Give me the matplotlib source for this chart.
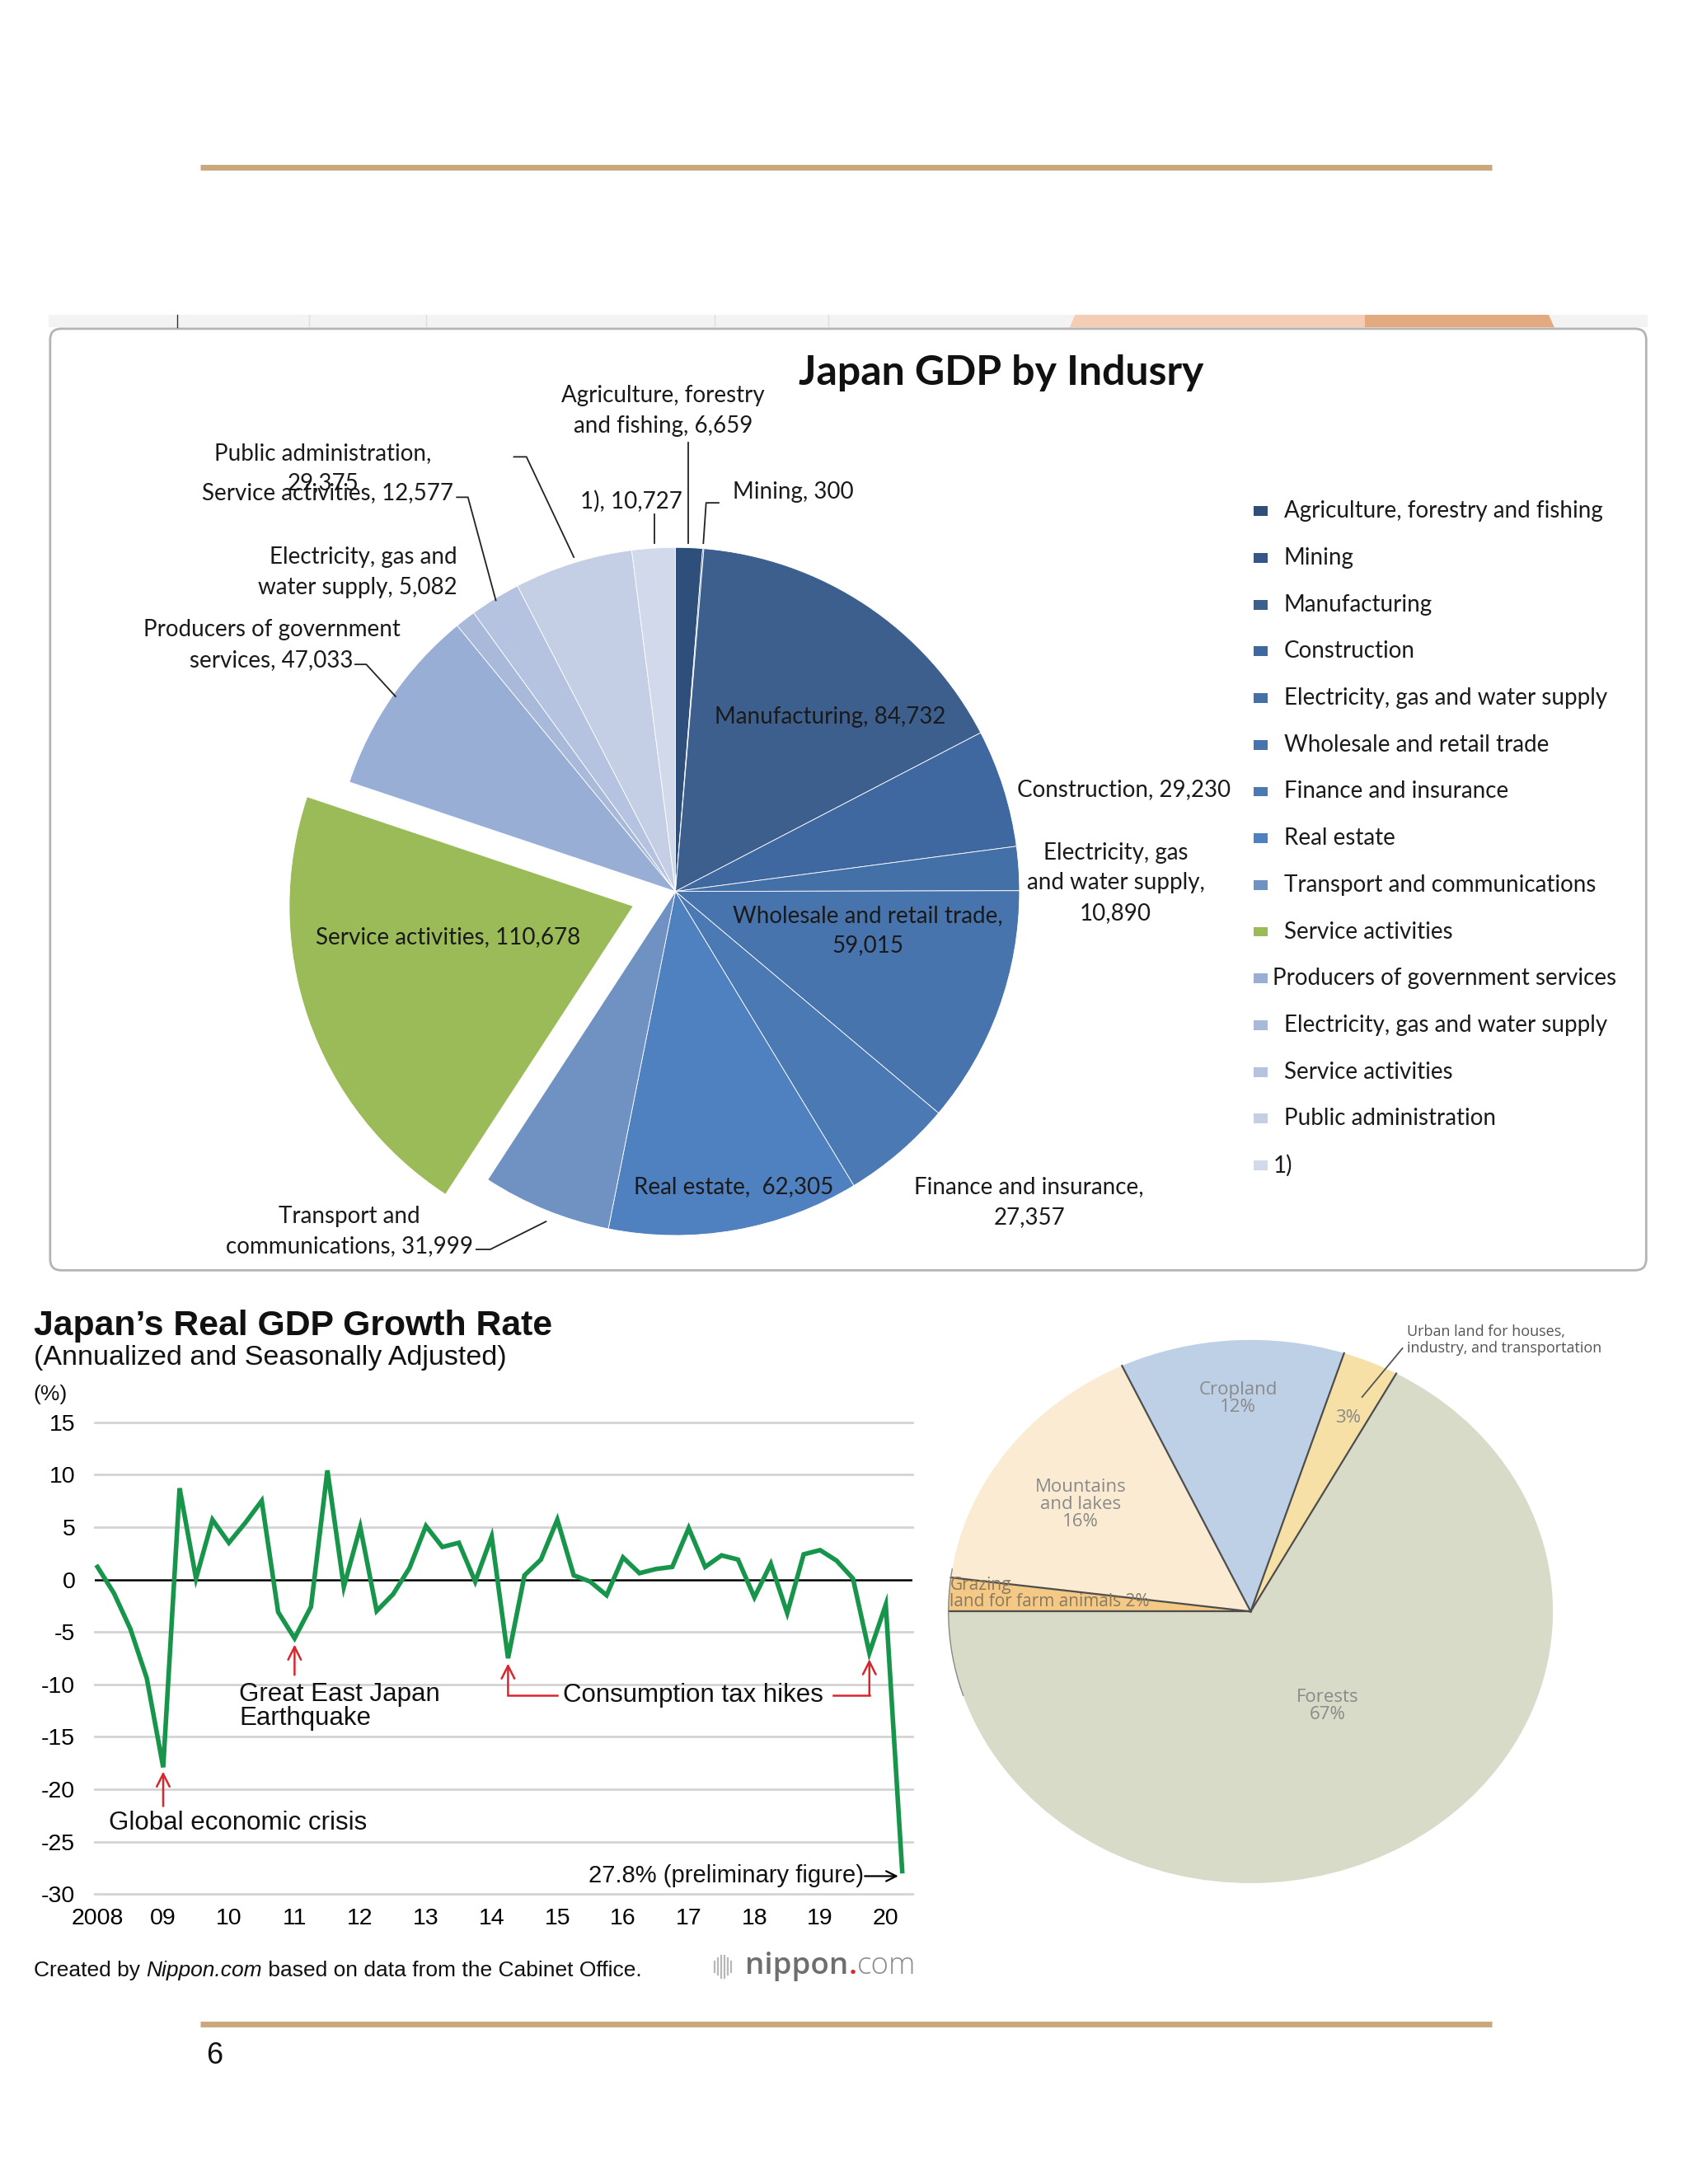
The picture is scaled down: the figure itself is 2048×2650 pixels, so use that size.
import matplotlib
matplotlib.use("Agg")
import matplotlib.pyplot as plt
from matplotlib import font_manager as fm
from matplotlib.patches import FancyBboxPatch, Rectangle, Polygon
import numpy as np

names = {f.name for f in fm.fontManager.ttflist}
SANS = 'Liberation Sans'
NARROW = 'Liberation Sans Narrow' if 'Liberation Sans Narrow' in names else SANS
XL = 'Lato' if 'Lato' in names else 'DejaVu Sans'
OPEN = 'Open Sans' if 'Open Sans' in names else 'DejaVu Sans'

# ---------------- DATA ----------------
# Japan GDP by industry (clockwise from 12 o'clock)
gdp_names = ["Agriculture, forestry and fishing", "Mining", "Manufacturing", "Construction",
             "Electricity, gas and water supply", "Wholesale and retail trade",
             "Finance and insurance", "Real estate", "Transport and communications",
             "Service activities", "Producers of government services",
             "Electricity, gas and water supply", "Service activities",
             "Public administration", "1)"]
gdp_values = [6659, 300, 84732, 29230, 10890, 59015, 27357, 62305, 31999,
              110678, 47033, 5082, 12577, 29375, 10727]
gdp_label_templates = ["Agriculture, forestry\nand fishing, {v}", "Mining, {v}", "Manufacturing, {v}",
                       "Construction, {v}", "Electricity, gas\nand water supply,\n{v}",
                       "Wholesale and retail trade,\n{v}", "Finance and insurance,\n{v}",
                       "Real estate,  {v}", "Transport and\ncommunications, {v}",
                       "Service activities, {v}", "Producers of government\nservices, {v}",
                       "Electricity, gas and\nwater supply, {v}", "Service activities, {v}",
                       "Public administration,\n{v}", "1), {v}"]
gdp_colors = ["#2f4f7b", "#34568a", "#3c5f8e", "#3f68a0", "#4470a8", "#4874ae", "#4a79b4",
              "#4f80bf", "#6f92c3", "#9bbb59", "#98aed4", "#a8b9da", "#b5c3e1", "#c4cee5", "#d2d9ea"]
gdp_explode_index = 9

# Japan real GDP growth rate (annualized, %), quarterly from 2008 Q1
growth_start_year = 2008
growth_values = [1.2, -1.3, -4.7, -9.4, -17.9, 8.7, 0.1, 5.7, 3.5, 5.4, 7.5, -3.1, -5.6, -2.6,
                 10.4, -0.7, 5.0, -3.0, -1.4, 1.1, 5.1, 3.1, 3.5, -0.2, 4.1, -7.5, 0.4, 1.9,
                 5.7, 0.4, -0.2, -1.5, 2.1, 0.6, 1.0, 1.2, 4.9, 1.2, 2.3, 1.9, -1.7, 1.5, -3.2,
                 2.4, 2.8, 1.8, 0.1, -7.0, -2.4, -27.8]
year_ticks = [2008, 2009, 2010, 2011, 2012, 2013, 2014, 2015, 2016, 2017, 2018, 2019, 2020]
year_labels = ["2008", "09", "10", "11", "12", "13", "14", "15", "16", "17", "18", "19", "20"]
y_ticks = [15, 10, 5, 0, -5, -10, -15, -20, -25, -30]

# Land use of Japan (clockwise from 9 o'clock)
land_names = ["Grazing land for farm animals", "Mountains and lakes", "Cropland", "Urban land", "Forests"]
land_values = [2, 16, 12, 3, 67]
land_colors = ["#f3c985", "#fbebd2", "#bdd0e6", "#f7e0a6", "#d8dbc8"]

# ---------------- FIGURE ----------------
W, H = 2048, 2650
RW, RH = 1212.0, 1568.0     # layout units (reduced grid)
fig = plt.figure(figsize=(W / 100, H / 100), dpi=100)
fig.patch.set_facecolor('white')


def rect(x0, y0, x1, y1):
    return [x0 / RW, 1 - y1 / RH, (x1 - x0) / RW, (y1 - y0) / RH]


page = fig.add_axes([0, 0, 1, 1], zorder=0)
page.set_xlim(0, RW); page.set_ylim(RH, 0); page.axis('off')

# gold rules
page.plot([144, 1071], [120, 120], color='#c9a97c', lw=5, solid_capstyle='butt')
page.plot([144, 1071], [1453, 1453], color='#c9a97c', lw=5, solid_capstyle='butt')
page.text(154, 1476, "6", fontsize=26, family=NARROW, ha='center', va='center', color='#111111')

# excel header remnants
page.add_patch(Rectangle((35, 226), 1148, 9, facecolor='#f3f3f3', edgecolor='none'))
for xx, c in [(127, '#333333'), (222, '#dddddd'), (306, '#dddddd'), (513, '#dddddd'), (595, '#dddddd')]:
    page.plot([xx, xx], [226, 235], color=c, lw=1)
page.add_patch(Polygon([(768, 235), (772, 226), (980, 226), (980, 235)], closed=True,
                       facecolor='#f4cdb4', edgecolor='none'))
page.add_patch(Polygon([(980, 235), (980, 226), (1112, 226), (1116, 235)], closed=True,
                       facecolor='#e3aa80', edgecolor='none'))
# chart frame
page.add_patch(FancyBboxPatch((36, 236), 1146, 676, boxstyle="round,pad=0,rounding_size=8",
                              facecolor='white', edgecolor='#b4b4b4', lw=2))

# ---------------- GDP PIE ----------------
cx, cy, rr = 485, 640, 247
axp = fig.add_axes(rect(cx - 1.2 * rr, cy - 1.2 * rr, cx + 1.2 * rr, cy + 1.2 * rr), zorder=2)
explode = [0.13 if i == gdp_explode_index else 0 for i in range(len(gdp_values))]
axp.pie(gdp_values, colors=gdp_colors, startangle=90, counterclock=False, explode=explode,
        radius=1, wedgeprops=dict(edgecolor='#ffffff', linewidth=0.6))
axp.set_xlim(-1.2, 1.2); axp.set_ylim(-1.2, 1.2); axp.set_aspect('equal')
axp.axis('off'); axp.patch.set_alpha(0)

top = fig.add_axes([0, 0, 1, 1], zorder=5)
top.set_xlim(0, RW); top.set_ylim(RH, 0); top.axis('off'); top.patch.set_alpha(0)

top.text(719, 268, "Japan GDP by Indusry", fontsize=36, fontweight='bold', family=XL,
         ha='center', va='center', color='#111111')

label_pos = [(476, 295, 'center'), (526, 353, 'left'), (596, 515, 'center'), (807, 567, 'center'),
             (801, 634, 'center'), (623, 668, 'center'), (739, 863, 'center'), (527, 852, 'center'),
             (251, 884, 'center'), (322, 673, 'center'), (195, 463, 'center'), (328, 411, 'right'),
             (235, 354, 'center'), (232, 336, 'center'), (453, 360, 'center')]
for tmpl, v, (lx, ly, ha) in zip(gdp_label_templates, gdp_values, label_pos):
    top.text(lx, ly, tmpl.format(v=f"{v:,}"), fontsize=20, family=XL, ha=ha, va='center',
             multialignment=ha, linespacing=1.5, color='#1a1a1a')

lk = dict(color='#222222', lw=1.3)
top.plot([494, 494], [318, 390], **lk)
top.plot([505, 507, 516], [390, 361, 361], **lk)
top.plot([470, 470], [369, 390], **lk)
top.plot([369, 378, 412], [328, 328, 400], **lk)
top.plot([328, 336, 356], [357, 357, 431], **lk)
top.plot([255, 263, 284], [477, 477, 500], **lk)
top.plot([342, 352, 392], [897, 897, 877], **lk)

# legend
leg_y0, leg_dy = 367, 33.55
for i, (nm, col) in enumerate(zip(gdp_names, gdp_colors)):
    yy = leg_y0 + i * leg_dy
    top.add_patch(Rectangle((900, yy - 3.5), 10, 7, facecolor=col, edgecolor='none'))
    tx = 914 if nm in ("Producers of government services", "1)") else 922
    top.text(tx, yy, nm, fontsize=20, family=XL, ha='left', va='center', color='#1a1a1a')

# ---------------- GROWTH LINE CHART ----------------
gx0, gx1, gy15, gym30 = 68, 655, 1021, 1360
axl = fig.add_axes(rect(gx0, gy15, gx1, gym30), zorder=3)
axl.patch.set_alpha(0)
px_per_year = (636 - 70) / 12.0
axl.set_xlim(2008 - (70 - gx0) / px_per_year, 2008 + (gx1 - 70) / px_per_year)
axl.set_ylim(-30, 15)
for s in axl.spines.values():
    s.set_visible(False)
for t in y_ticks:
    if t == 0:
        axl.axhline(0, color='black', lw=1.8, zorder=2)
    else:
        axl.axhline(t, color='#d4d4d4', lw=2, zorder=1, clip_on=False)
xq = growth_start_year + np.arange(len(growth_values)) / 4.0
axl.plot(xq, growth_values, color='#17954a', lw=4, zorder=4, solid_joinstyle='miter', clip_on=False)
axl.set_yticks(y_ticks)
axl.set_yticklabels([str(t) for t in y_ticks], family=NARROW, fontsize=20.5)
axl.set_xticks(year_ticks)
axl.set_xticklabels(year_labels, family=NARROW, fontsize=20.5)
axl.tick_params(length=0, axis='y', pad=17)
axl.tick_params(length=0, axis='x', pad=12)

red = '#d8262c'
ann = dict(family=NARROW, fontsize=22.5, color='#111111')
axl.text(2010.16, -12.1, "Great East Japan\nEarthquake", ha='left', va='center', linespacing=0.95, **ann)
axl.text(2008.17, -23.2, "Global economic crisis", ha='left', va='center', **ann)
axl.text(2015.08, -11.0, "Consumption tax hikes", ha='left', va='center', **ann)
axl.text(2019.66, -28.27, "27.8% (preliminary figure)", ha='right', va='center',
         family=NARROW, fontsize=21, color='#111111')

arr = dict(arrowstyle='->', color=red, lw=1.8, mutation_scale=28, shrinkA=0, shrinkB=0)
axl.annotate('', xy=(2011.0, -6.2), xytext=(2011.0, -9.1), arrowprops=arr)
axl.annotate('', xy=(2009.0, -18.3), xytext=(2009.0, -21.6), arrowprops=arr)
axl.plot([2015.0, 2014.25], [-11.0, -11.0], color=red, lw=1.8)
axl.annotate('', xy=(2014.25, -8.0), xytext=(2014.25, -11.0), arrowprops=arr)
axl.plot([2019.2, 2019.75], [-11.0, -11.0], color=red, lw=1.8)
axl.annotate('', xy=(2019.75, -7.6), xytext=(2019.75, -11.0), arrowprops=arr)
axl.annotate('', xy=(2020.19, -28.27), xytext=(2019.68, -28.27),
             arrowprops=dict(arrowstyle='->', color='black', lw=1.6, mutation_scale=22,
                             shrinkA=0, shrinkB=0))

top.text(24, 952, "Japan\u2019s Real GDP Growth Rate", fontsize=30.8, fontweight='bold', family=SANS,
         ha='left', va='center', color='#111111')
top.text(24, 975, "(Annualized and Seasonally Adjusted)", fontsize=24.5, family=SANS,
         ha='left', va='center', color='#111111')
top.text(24, 1001, "(%)", fontsize=19, family=NARROW, ha='left', va='center', color='#111111')

f1 = top.text(24, 1415, "Created by ", fontsize=19, family=SANS, ha='left', va='center', color='#111111')
f2 = top.annotate("Nippon.com", xy=(1, 0), xycoords=f1, fontsize=19, family=SANS, style='italic',
                  ha='left', va='bottom', color='#111111')
top.annotate(" based on data from the Cabinet Office.", xy=(1, 0), xycoords=f2, fontsize=19,
             family=SANS, ha='left', va='bottom', color='#111111')

# nippon.com logo
for k, hh in enumerate([4, 6, 8, 8, 6, 4]):
    top.plot([513 + k * 2.4, 513 + k * 2.4], [1412 - hh, 1412 + hh], color='#b8b8b8', lw=1.6)
n1 = top.text(535, 1412, "nippon", fontsize=26.5, family=OPEN, fontweight='semibold',
              ha='left', va='center', color='#6e6e6e')
n2 = top.annotate(".", xy=(1, 0), xycoords=n1, fontsize=26.5, family=OPEN, fontweight='semibold',
                  ha='left', va='bottom', color='#e0232b')
top.annotate("com", xy=(1, 0), xycoords=n2, fontsize=26.5, family=OPEN, fontweight='light',
             ha='left', va='bottom', color='#8c8c8c')

# ---------------- LAND USE PIE ----------------
lcx, lcy, lrx, lry = 898, 1157, 217, 195
axg = fig.add_axes(rect(lcx - 1.1 * lrx, lcy - 1.1 * lry, lcx + 1.1 * lrx, lcy + 1.1 * lry), zorder=2)
wedges, _ = axg.pie(land_values, colors=land_colors, startangle=180, counterclock=False, radius=1,
                    wedgeprops=dict(edgecolor='none'))
axg.set_aspect('auto')
axg.set_xlim(-1.1, 1.1); axg.set_ylim(-1.1, 1.1); axg.axis('off')
for w in wedges:
    th = np.deg2rad(w.theta1)
    axg.plot([0, np.cos(th)], [0, np.sin(th)], color='#4d4d4d', lw=1.6)
th = np.linspace(np.pi * 0.95, np.pi * 1.1, 30)
axg.plot(np.cos(th), np.sin(th), color='#8a8a80', lw=1)

lt = dict(family=OPEN, fontsize=16, color='#8a8a8a', ha='center', va='center', linespacing=1.0)
top.text(889, 1004, "Cropland\n12%", **lt)
top.text(776, 1080, "Mountains\nand lakes\n16%", **lt)
top.text(968, 1018, "3%", **lt)
top.text(953, 1225, "Forests\n67%", **lt)
top.text(682, 1144, "Grazing\nland for farm animals 2%", family=OPEN, fontsize=15, color='#8a7a60',
         ha='left', va='center', linespacing=0.95)
top.text(1010, 962, "Urban land for houses,\nindustry, and transportation", family=OPEN, fontsize=13,
         color='#555555', ha='left', va='center', linespacing=1.15)
top.plot([978, 1007], [1003, 968], color='#555555', lw=1.3)

fig.savefig("out.png", dpi=100, facecolor='white')
